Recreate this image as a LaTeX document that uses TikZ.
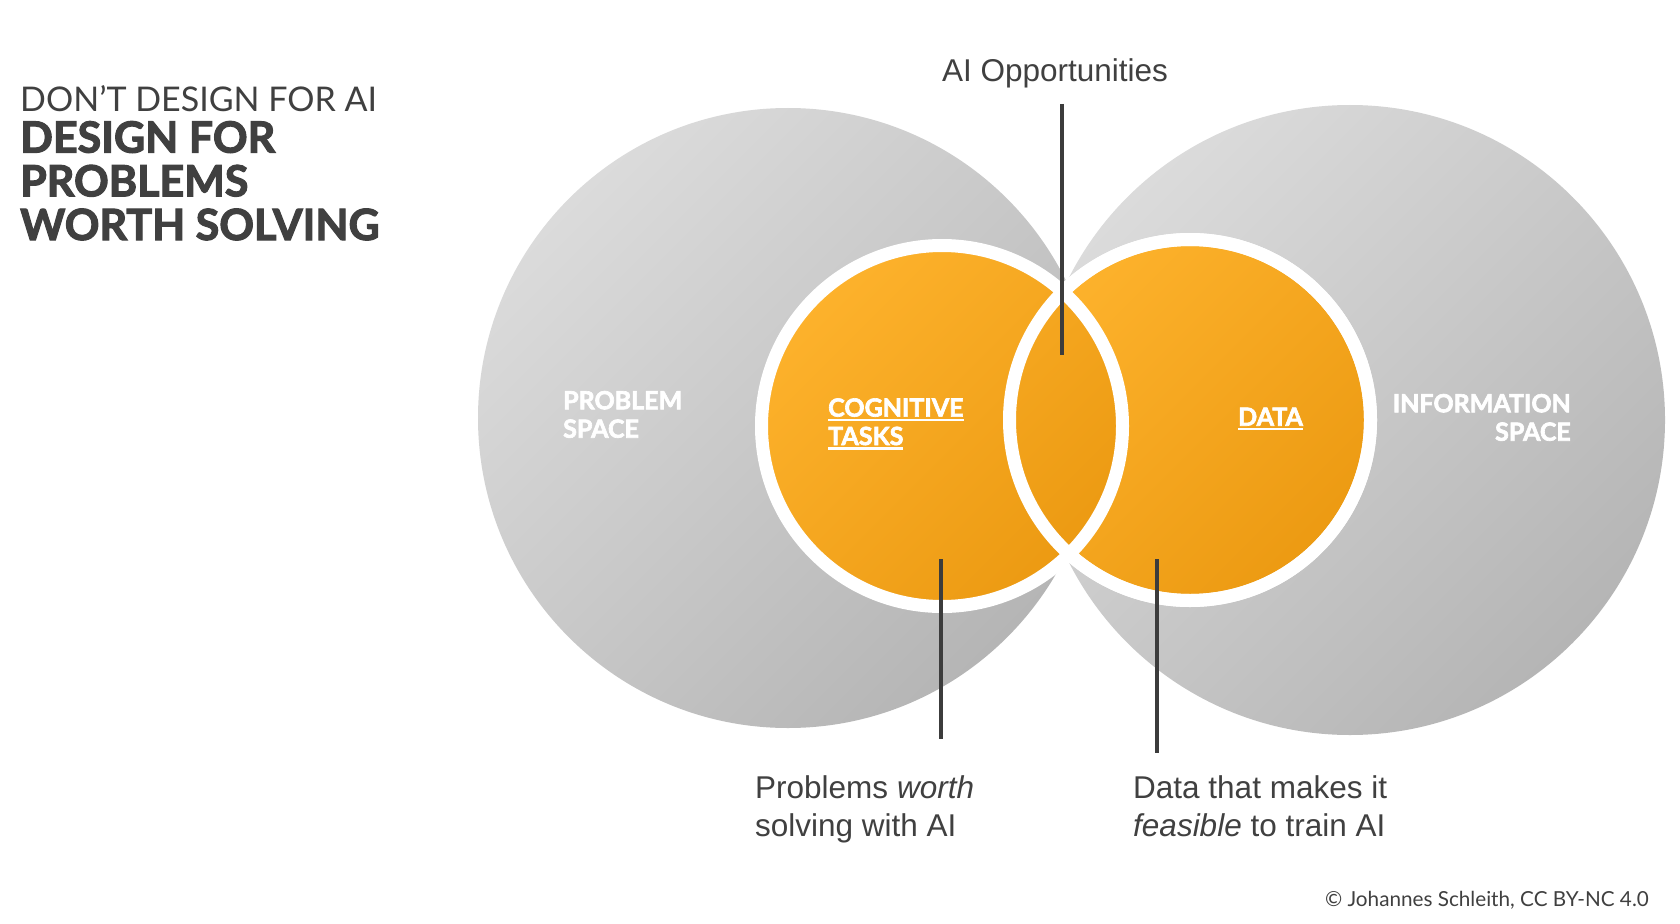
\documentclass[tikz,border=0pt]{standalone}
\usepackage{fontspec}
\setmainfont{Liberation Sans}
\newfontfamily\titlefont{Lato}
\newfontfamily\heavyfont{Lato}[BoldFeatures={FakeBold=2.6}]
\definecolor{txt}{HTML}{404040}
\definecolor{grayL}{HTML}{DBDBDB}
\definecolor{grayD}{HTML}{B5B5B5}
\definecolor{orL}{HTML}{FDB22C}
\definecolor{orD}{HTML}{EC9A12}
\definecolor{linec}{HTML}{3C3C3C}
\newcommand\myul[1]{\leavevmode\setbox0\hbox{#1}\rlap{\rule[-4.5pt]{\wd0}{2.3pt}}\box0}
\begin{document}
\begin{tikzpicture}[x=1pt,y=-1pt,
  graycirc/.style={circle,inner sep=0pt,top color=grayL,bottom color=grayD,shading angle=45},
  orcirc/.style={circle,inner sep=0pt,minimum size=361pt,draw=white,line width=13pt,top color=orL,bottom color=orD,shading angle=45},
  ring/.style={draw=white,line width=13pt},
  leader/.style={draw=linec,line width=4.6pt},
  bodytext/.style={text=txt,inner sep=0pt,font=\fontsize{31.5}{38.6}\selectfont,align=left},
  spacelabel/.style={text=white,inner sep=0pt,font=\heavyfont\bfseries\fontsize{25}{28.4}\selectfont},
]
\fill[white] (0,0) rectangle (1680,923);
\useasboundingbox (0,0) rectangle (1680,923);

% big gray circles
\node[graycirc,minimum size=620pt] (probspace) at (788,418) {};
\node[graycirc,minimum size=630pt] (infospace) at (1350,420) {};

% orange circles
\node[orcirc] (datac) at (1190,420) {};
\node[orcirc] (cogc) at (942,426) {};
\draw[ring] (datac.center) circle[radius=180.5pt];

% leader lines
\coordinate (aitop) at (1062,104);
\coordinate (aibot) at (1062,355);
\coordinate (cogtop) at (941,559);
\coordinate (cogbot) at (941,739);
\coordinate (datatop) at (1157,559);
\coordinate (databot) at (1157,753);
\draw[leader] (aitop) -- (aibot);
\draw[leader] (cogtop) -- (cogbot);
\draw[leader] (datatop) -- (databot);

% labels (base anchor of a multi-line node = baseline of its last line)
\node[bodytext,anchor=base] (ailabel) at (1055,81.7) {AI Opportunities};
\node[bodytext,anchor=base west] (problabel) at (755,836.6) {Problems \textit{worth}\\solving with AI};
\node[bodytext,anchor=base west] (datalabel) at (1133,836.6) {Data that makes it\\\textit{feasible} to train AI};

\node[spacelabel,anchor=base west,align=left] (pslabel) at (563,437.7) {PROBLEM\\SPACE};
\node[spacelabel,anchor=base west,align=left] (ctlabel) at (828,445) {\myul{COGNITIVE}\\\myul{TASKS}};
\node[spacelabel,anchor=base west] (dlabel) at (1238,425.7) {\myul{DATA}};
\node[spacelabel,anchor=base east,align=right] (islabel) at (1571,440.7) {INFORMATION\\SPACE};

% title
\node[text=txt,inner sep=0pt,anchor=base west,font=\titlefont\fontsize{34}{36}\selectfont] (title1) at (20,112) {DON’T DESIGN FOR AI};
\node[text=txt,inner sep=0pt,anchor=base west,align=left,font=\heavyfont\bfseries\fontsize{43}{43.7}\selectfont] (title2) at (20,240) {DESIGN FOR\\PROBLEMS\\WORTH SOLVING};

% copyright
\node[text=txt,inner sep=0pt,anchor=base east,font=\titlefont\fontsize{20.7}{24}\selectfont] (copy) at (1649,906.7) {© Johannes Schleith, CC BY-NC 4.0};
\end{tikzpicture}
\end{document}
